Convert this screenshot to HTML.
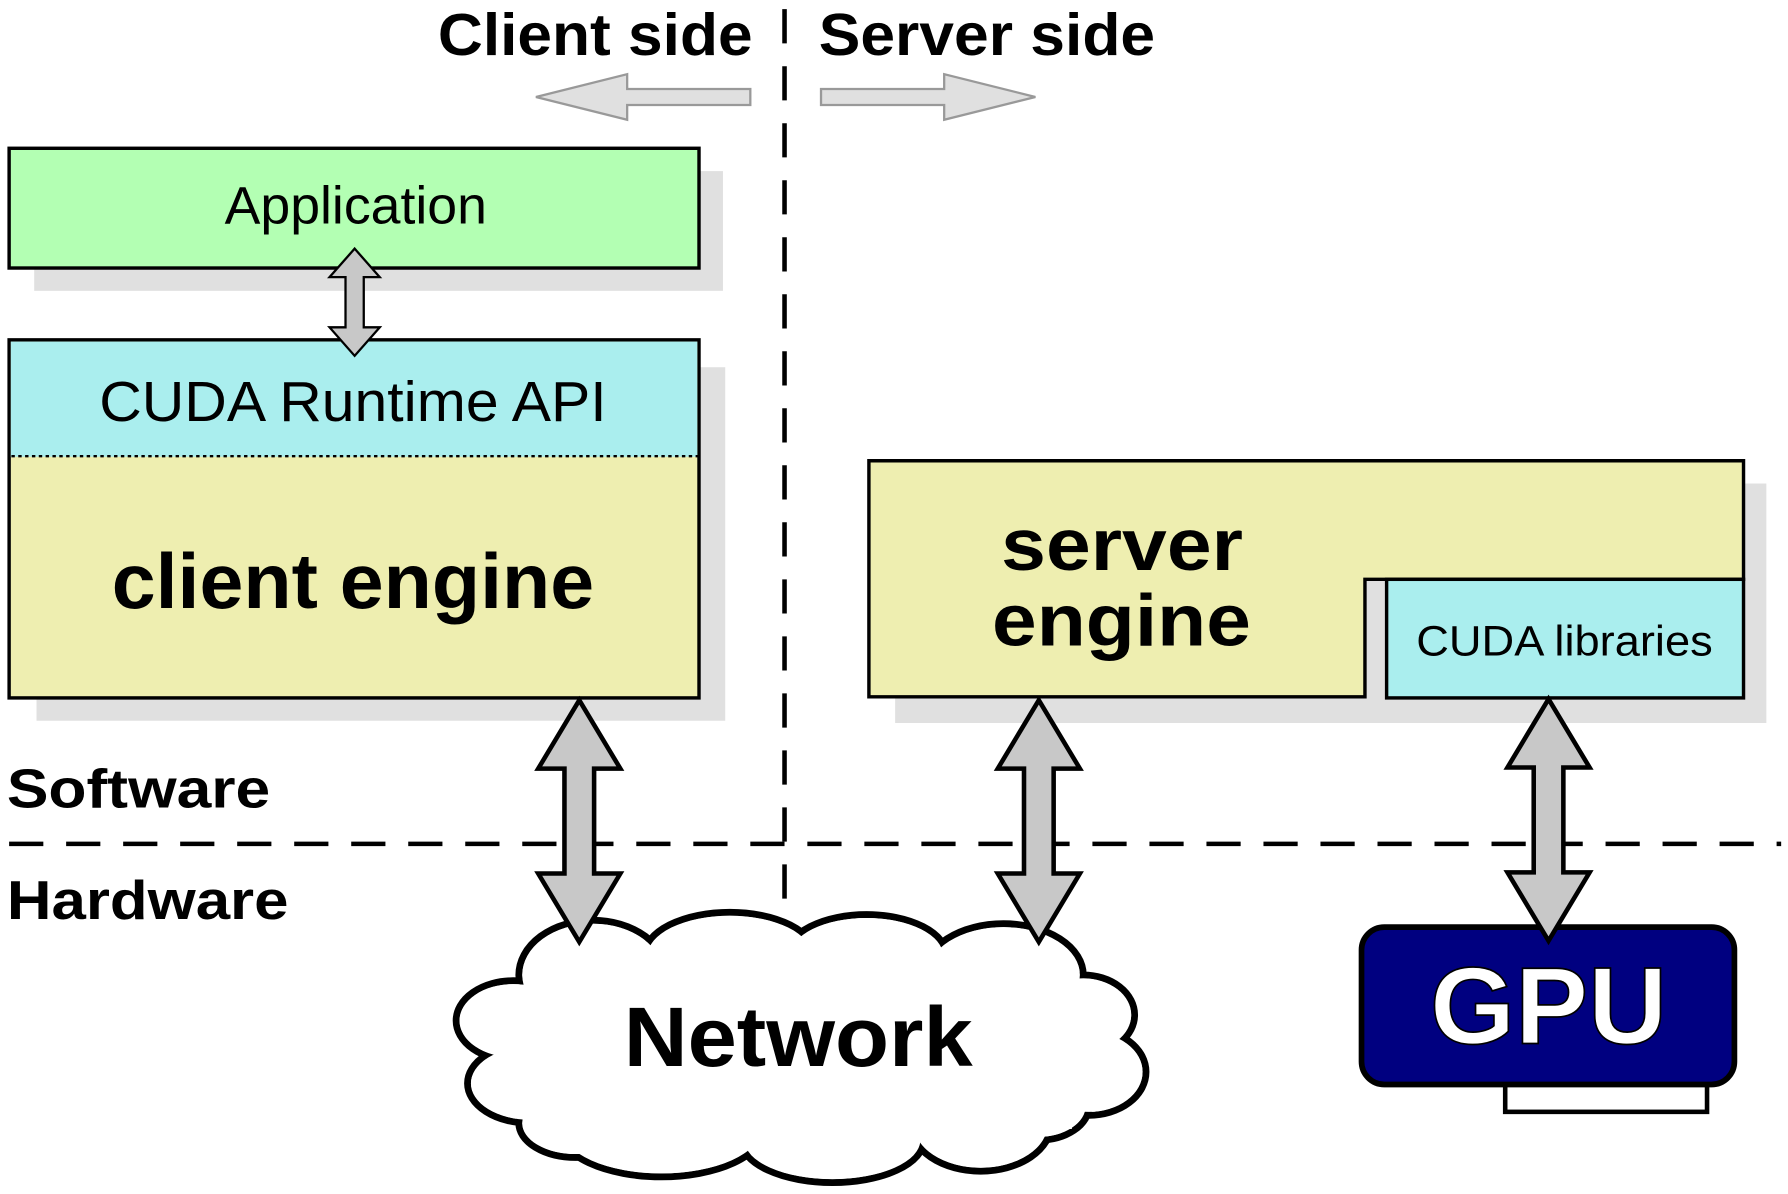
<!DOCTYPE html>
<html><head><meta charset="utf-8"><style>html,body{margin:0;padding:0;background:#fff}svg{display:block}</style></head>
<body>
<svg width="1788" height="1194" viewBox="0 0 1568 1047" xmlns="http://www.w3.org/2000/svg" font-family="Liberation Sans, Arial, sans-serif">
<defs>
<g id="dbl">
<polygon points="0,-106 36,-46 13,-46 13,46 36,46 0,106 -36,46 -13,46 -13,-46 -36,-46" fill="#c8c8c8" stroke="#000" stroke-width="4" stroke-linejoin="miter"/>
</g>
</defs>
<line x1="688" y1="8" x2="688" y2="810" stroke="#000" stroke-width="4" stroke-dasharray="30,20"/>
<line x1="8" y1="740" x2="1562" y2="740" stroke="#000" stroke-width="4" stroke-dasharray="30,20"/>
<text x="384" y="48" font-size="52" font-weight="bold" textLength="276" lengthAdjust="spacingAndGlyphs">Client side</text>
<text x="718" y="48" font-size="52" font-weight="bold" textLength="295" lengthAdjust="spacingAndGlyphs">Server side</text>
<polygon points="658,78 550,78 550,65 470,85 550,105 550,92 658,92" fill="#e0e0e0" stroke="#999" stroke-width="2"/>
<polygon points="720,78 828,78 828,65 908,85 828,105 828,92 720,92" fill="#e0e0e0" stroke="#999" stroke-width="2"/>
<rect x="30" y="150" width="604" height="105" fill="#e0e0e0"/>
<rect x="8" y="130" width="605" height="105" fill="#b3ffb3" stroke="#000" stroke-width="3"/>
<text x="197" y="196" font-size="46" textLength="230" lengthAdjust="spacingAndGlyphs">Application</text>
<rect x="32" y="322" width="604" height="310" fill="#e0e0e0"/>
<rect x="8" y="298" width="605" height="314" fill="#eeeeb0" stroke="#000" stroke-width="3"/>
<rect x="9.5" y="299.5" width="602" height="101" fill="#aaeeee"/>
<line x1="10" y1="400" x2="612" y2="400" stroke="#000" stroke-width="2" stroke-dasharray="3,3"/>
<text x="87" y="369" font-size="50" textLength="445" lengthAdjust="spacingAndGlyphs">CUDA Runtime API</text>
<text x="98" y="533" font-size="68" font-weight="bold" textLength="423" lengthAdjust="spacingAndGlyphs">client engine</text>
<polygon points="311,218 333,243 319,243 319,287 333,287 311,312 289,287 303,287 303,243 289,243" fill="#c8c8c8" stroke="#000" stroke-width="2"/>
<rect x="785" y="424" width="764" height="210" fill="#e0e0e0"/>
<polygon points="762,404 1529,404 1529,508 1197,508 1197,611 762,611" fill="#eeeeb0" stroke="#000" stroke-width="3"/>
<rect x="1216" y="508" width="313" height="104" fill="#aaeeee" stroke="#000" stroke-width="3"/>
<text x="1242" y="575" font-size="37" textLength="260" lengthAdjust="spacingAndGlyphs">CUDA libraries</text>
<text x="878" y="500" font-size="64" font-weight="bold" textLength="212" lengthAdjust="spacingAndGlyphs">server</text>
<text x="870" y="566" font-size="64" font-weight="bold" textLength="227" lengthAdjust="spacingAndGlyphs">engine</text>
<text x="6" y="708" font-size="48" font-weight="bold" textLength="231" lengthAdjust="spacingAndGlyphs">Software</text>
<text x="6" y="806" font-size="48" font-weight="bold" textLength="247" lengthAdjust="spacingAndGlyphs">Hardware</text>
<g stroke="#000" stroke-width="6" fill="#fff">
<ellipse cx="520" cy="855" rx="65" ry="48"/><ellipse cx="640" cy="838" rx="75" ry="38"/><ellipse cx="760" cy="838" rx="70" ry="36"/>
<ellipse cx="880" cy="855" rx="70" ry="45"/><ellipse cx="950" cy="890" rx="45" ry="35"/><ellipse cx="955" cy="940" rx="50" ry="38"/>
<ellipse cx="860" cy="985" rx="62" ry="42"/><ellipse cx="730" cy="1000" rx="80" ry="37"/><ellipse cx="580" cy="990" rx="90" ry="42"/>
<ellipse cx="465" cy="950" rx="55" ry="35"/><ellipse cx="450" cy="895" rx="50" ry="35"/>
<ellipse cx="505" cy="985" rx="50" ry="30"/><ellipse cx="910" cy="970" rx="45" ry="30"/>
</g>
<g fill="#fff">
<ellipse cx="520" cy="855" rx="62" ry="45"/><ellipse cx="640" cy="838" rx="72" ry="35"/><ellipse cx="760" cy="838" rx="67" ry="33"/>
<ellipse cx="880" cy="855" rx="67" ry="42"/><ellipse cx="950" cy="890" rx="42" ry="32"/><ellipse cx="955" cy="940" rx="47" ry="35"/>
<ellipse cx="860" cy="985" rx="59" ry="39"/><ellipse cx="730" cy="1000" rx="77" ry="34"/><ellipse cx="580" cy="990" rx="87" ry="39"/>
<ellipse cx="465" cy="950" rx="52" ry="32"/><ellipse cx="450" cy="895" rx="47" ry="32"/>
<ellipse cx="505" cy="985" rx="47" ry="27"/><ellipse cx="910" cy="970" rx="42" ry="27"/>
<rect x="460" y="850" width="480" height="140"/>
</g>
<text x="547" y="935" font-size="74" font-weight="bold" textLength="306" lengthAdjust="spacingAndGlyphs">Network</text>
<rect x="1320" y="945" width="177" height="30" fill="#fff" stroke="#000" stroke-width="4"/>
<rect x="1194" y="813" width="327" height="138" rx="20" fill="#000080" stroke="#000" stroke-width="5"/>
<text x="1358" y="915" text-anchor="middle" font-size="96" font-weight="bold" fill="#fff" stroke="#000" stroke-width="1.5">GPU</text>
<use href="#dbl" transform="translate(508,720)"/>
<use href="#dbl" transform="translate(911,720)"/>
<use href="#dbl" transform="translate(1358,719)"/>
</svg>
</body></html>
